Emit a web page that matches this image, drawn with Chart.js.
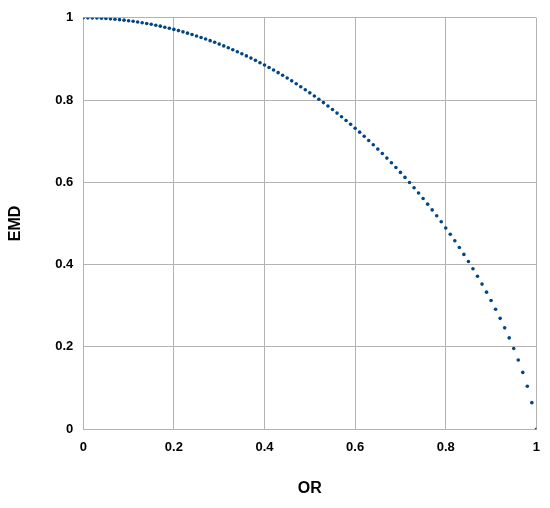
<!DOCTYPE html>
<html>
<head>
<meta charset="utf-8">
<script src="https://cdn.jsdelivr.net/npm/chart.js@4/dist/chart.umd.min.js"></script>
<style>
	html, body { margin: 0; padding: 0; background: #fff; }
	#wrap { width: 550px; height: 508px; }
</style>
</head>
<body>
<div id="wrap"><canvas id="chart"></canvas></div>
<script>
// OR values (x) and EMD values (y)
var orValues = [
	0, 0.01, 0.02, 0.03, 0.04, 0.05, 0.06, 0.07, 0.08, 0.09,
	0.10, 0.11, 0.12, 0.13, 0.14, 0.15, 0.16, 0.17, 0.18, 0.19,
	0.20, 0.21, 0.22, 0.23, 0.24, 0.25, 0.26, 0.27, 0.28, 0.29,
	0.30, 0.31, 0.32, 0.33, 0.34, 0.35, 0.36, 0.37, 0.38, 0.39,
	0.40, 0.41, 0.42, 0.43, 0.44, 0.45, 0.46, 0.47, 0.48, 0.49,
	0.50, 0.51, 0.52, 0.53, 0.54, 0.55, 0.56, 0.57, 0.58, 0.59,
	0.60, 0.61, 0.62, 0.63, 0.64, 0.65, 0.66, 0.67, 0.68, 0.69,
	0.70, 0.71, 0.72, 0.73, 0.74, 0.75, 0.76, 0.77, 0.78, 0.79,
	0.80, 0.81, 0.82, 0.83, 0.84, 0.85, 0.86, 0.87, 0.88, 0.89,
	0.90, 0.91, 0.92, 0.93, 0.94, 0.95, 0.96, 0.97, 0.98, 0.99, 1.00
];
var emdValues = [
	1, 0.9999, 0.9997, 0.9994, 0.9989, 0.9982, 0.9975, 0.9966, 0.9955, 0.9943,
	0.9930, 0.9915, 0.9899, 0.9881, 0.9862, 0.9842, 0.9820, 0.9797, 0.9772, 0.9746,
	0.9718, 0.9689, 0.9659, 0.9627, 0.9593, 0.9558, 0.9522, 0.9484, 0.9445, 0.9404,
	0.9361, 0.9317, 0.9272, 0.9225, 0.9176, 0.9126, 0.9074, 0.9021, 0.8966, 0.8909,
	0.8851, 0.8791, 0.8730, 0.8667, 0.8602, 0.8535, 0.8467, 0.8397, 0.8325, 0.8251,
	0.8176, 0.8099, 0.8020, 0.7939, 0.7856, 0.7771, 0.7684, 0.7596, 0.7505, 0.7412,
	0.7317, 0.7220, 0.7120, 0.7019, 0.6915, 0.6809, 0.6701, 0.6590, 0.6476, 0.6360,
	0.6242, 0.6120, 0.5996, 0.5869, 0.5740, 0.5606, 0.5470, 0.5331, 0.5188, 0.5041,
	0.4891, 0.4737, 0.4579, 0.4416, 0.4249, 0.4076, 0.3899, 0.3716, 0.3527, 0.3331,
	0.3127, 0.2915, 0.2695, 0.2463, 0.2219, 0.1960, 0.1683, 0.1381, 0.1043, 0.0645, 0
];
var xTicks = [0, 0.2, 0.4, 0.6, 0.8, 1];
var yTicks = [0, 0.2, 0.4, 0.6, 0.8, 1];

var points = [];
for (var i = 0; i < orValues.length; i++) {
	points.push({ x: orValues[i], y: emdValues[i] });
}

var tickFont = { family: 'Liberation Sans', size: 13, weight: 'bold' };
var titleFont = { family: 'Liberation Sans', size: 16, weight: 'bold' };

// LibreOffice-style labels: "1" and "0", not "1.0"
function plainLabel(value) {
	return String(Math.round(value * 10) / 10);
}

new Chart(document.getElementById('chart'), {
	type: 'scatter',
	data: {
		datasets: [
			{
				label: 'EMD',
				data: points,
				backgroundColor: '#004586',
				borderColor: '#004586',
				pointRadius: 1.8,
				pointBorderWidth: 0,
			},
		],
	},
	options: {
		responsive: true,
		maintainAspectRatio: false,
		animation: false,
		layout: { padding: { top: 6, right: 6, left: 2, bottom: 6 } },
		plugins: {
			legend: { display: false },
			tooltip: { enabled: false },
		},
		scales: {
			x: {
				type: 'linear',
				min: 0,
				max: 1,
				afterBuildTicks: function (axis) {
					axis.ticks = xTicks.map(function (v) { return { value: v }; });
				},
				grid: { color: '#b3b3b3', drawTicks: false },
				border: { color: '#b3b3b3' },
				ticks: { color: '#000', font: tickFont, padding: 10, maxRotation: 0, callback: plainLabel },
				title: { display: true, text: 'OR', color: '#000', font: titleFont, padding: { top: 14 } },
			},
			y: {
				type: 'linear',
				min: 0,
				max: 1,
				afterBuildTicks: function (axis) {
					axis.ticks = yTicks.map(function (v) { return { value: v }; });
				},
				grid: { color: '#b3b3b3', drawTicks: false },
				border: { color: '#b3b3b3' },
				ticks: { color: '#000', font: tickFont, padding: 10, callback: plainLabel },
				title: { display: true, text: 'EMD', color: '#000', font: titleFont, padding: { bottom: 20 } },
			},
		},
	},
});
</script>
</body>
</html>
